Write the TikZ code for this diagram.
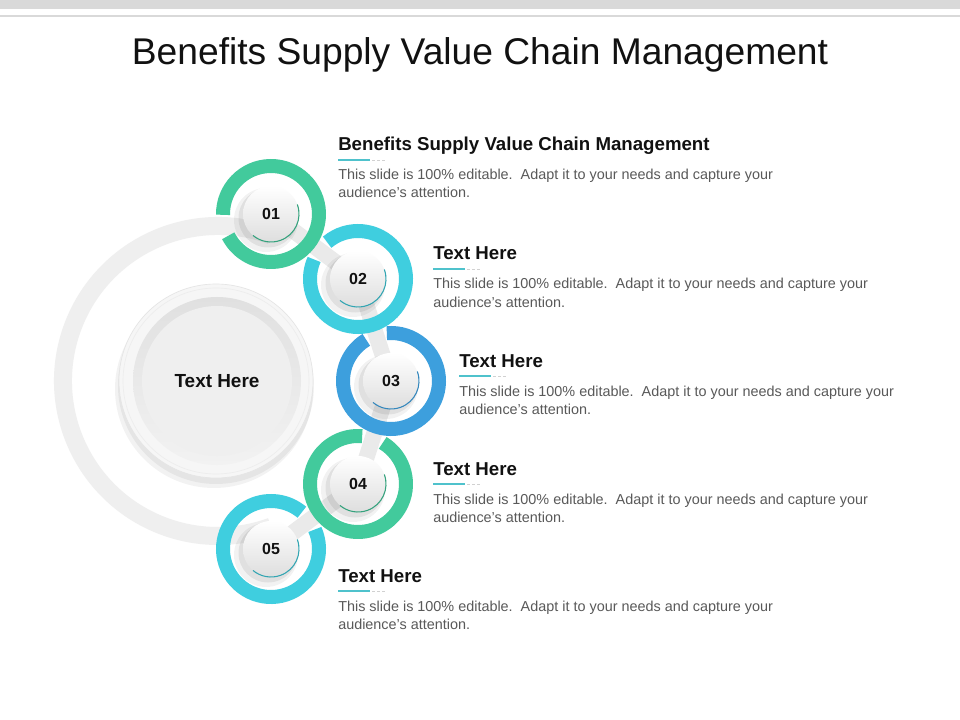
\documentclass[tikz,border=0pt]{standalone}
\usepackage{fontspec}
\setmainfont{Liberation Sans}
\usetikzlibrary{calc}
\definecolor{barc}{HTML}{D9D9D9}
\definecolor{ringg}{HTML}{42CA9C}
\definecolor{ringc}{HTML}{3FCEDF}
\definecolor{ringb}{HTML}{3D9FDD}
\definecolor{paleg}{HTML}{EFEFEF}
\definecolor{chainc}{HTML}{EAEAEA}
\definecolor{bodyc}{HTML}{595959}
\definecolor{ulinec}{HTML}{4FC2CC}
\definecolor{diskbot}{HTML}{DEDEDE}
\definecolor{platec}{HTML}{F6F6F6}
\definecolor{rimtop}{HTML}{E0E0E0}
\definecolor{rimbot}{HTML}{F2F2F2}
\definecolor{innerc}{HTML}{EFEFEF}
\definecolor{headc}{HTML}{111111}
\newcommand\myring[3]{%
  \draw[line width=10.5pt,#3] ($(#1)+(#2+13:48)$) arc[start angle=#2+13, end angle=#2+347, radius=48];}
\newcommand\mydisk[4]{%
  \fill[black,opacity=0.05] ($(#1)+(-5,6)$) circle (32);
  \fill[black,opacity=0.07] ($(#1)+(-3,4)$) circle (29.5);
  \node[numdisk] (#2) at (#1) {#3};
  \draw[#4,line width=0.8pt] ($(#1)+(-20:28)$) arc[start angle=-20,end angle=130,radius=28];}
\newcommand\myblock[4]{%
  \node[headtext,anchor=base west] (#1) at (#2,#3) {#4};
  \draw[ulinec,line width=0.9pt] ($(#1.base west)+(0,9)$) -- ++(32,0);
  \draw[black!18,line width=0.6pt,dash pattern=on 2.2pt off 1.6pt] ($(#1.base west)+(34,9)$) -- ++(15,0);
  \node[bodytext,anchor=base west] (#1a) at (#2,#3+29) {This slide is 100\% editable.\ \ Adapt it to your needs and capture your};
  \node[bodytext,anchor=base west] (#1b) at (#2,#3+47) {audience's attention.};}
\begin{document}
\begin{tikzpicture}[x=0.75pt,y=-0.75pt,
  numdisk/.style={circle,minimum size=42pt,inner sep=0pt,top color=white,bottom color=diskbot,
    font=\bfseries\fontsize{12}{14}\selectfont,text=headc},
  headtext/.style={inner sep=0pt,font=\bfseries\fontsize{14}{16}\selectfont,text=headc},
  bodytext/.style={inner sep=0pt,font=\fontsize{10.8}{13}\selectfont,text=bodyc},
  bigring/.style={line width=13.5pt,draw=paleg},
  chainline/.style={line width=12pt,draw=chainc}]
\useasboundingbox (0,0) rectangle (960,720);
\fill[white] (0,0) rectangle (960,720);
% top bars
\fill[barc] (0,0) rectangle (960,9);
\fill[barc] (0,15) rectangle (960,17.5);
% title
\node[inner sep=0pt,anchor=base,font=\fontsize{27.9}{32}\selectfont,text=headc] (title) at (480,65) {Benefits Supply Value Chain Management};
% coordinates
\coordinate (c0) at (218,381);
\coordinate (c1) at (271,214);
\coordinate (c2) at (358,279);
\coordinate (c3) at (391,381);
\coordinate (c4) at (358,484);
\coordinate (c5) at (271,549);
% big ring
\draw[bigring] ($(c0)+(290:155)$) arc[start angle=290,end angle=70,radius=155];
% chain
\draw[chainline] (c1) -- (c2) -- (c3) -- (c4) -- (c5);
% center plate
\fill[black,opacity=0.05] ($(c0)+(-4,8)$) circle (99);
\fill[black,opacity=0.05] ($(c0)+(-2,5)$) circle (98);
\fill[platec] ($(c0)+(-2,0)$) circle (97);
\draw[black!10,line width=0.5pt] ($(c0)+(-2,0)$) circle (97);
\draw[black!7,line width=0.5pt] ($(c0)+(-2,0)$) circle (93);
\shade[top color=rimtop,bottom color=rimbot] ($(c0)+(-1,0)$) circle (84);
\fill[innerc] ($(c0)+(-1,0)$) circle (75);
\node[inner sep=0pt,font=\bfseries\fontsize{14.2}{16}\selectfont,text=headc] (ctext) at ($(c0)+(-1,0)$) {Text Here};
% rings
\myring{c5}{323}{ringc}
\myring{c4}{288}{ringg}
\myring{c3}{252}{ringb}
\myring{c2}{217}{ringc}
\myring{c1}{166}{ringg}
% disks
\mydisk{c1}{n1}{01}{ringg!80!black}
\mydisk{c2}{n2}{02}{ringc!80!black}
\mydisk{c3}{n3}{03}{ringb!85!black}
\mydisk{c4}{n4}{04}{ringg!80!black}
\mydisk{c5}{n5}{05}{ringc!80!black}
% text blocks
\myblock{h1}{338}{151}{Benefits Supply Value Chain Management}
\myblock{h2}{433}{260}{Text Here}
\myblock{h3}{459}{367}{Text Here}
\myblock{h4}{433}{475}{Text Here}
\myblock{h5}{338}{582}{Text Here}
\end{tikzpicture}
\end{document}
